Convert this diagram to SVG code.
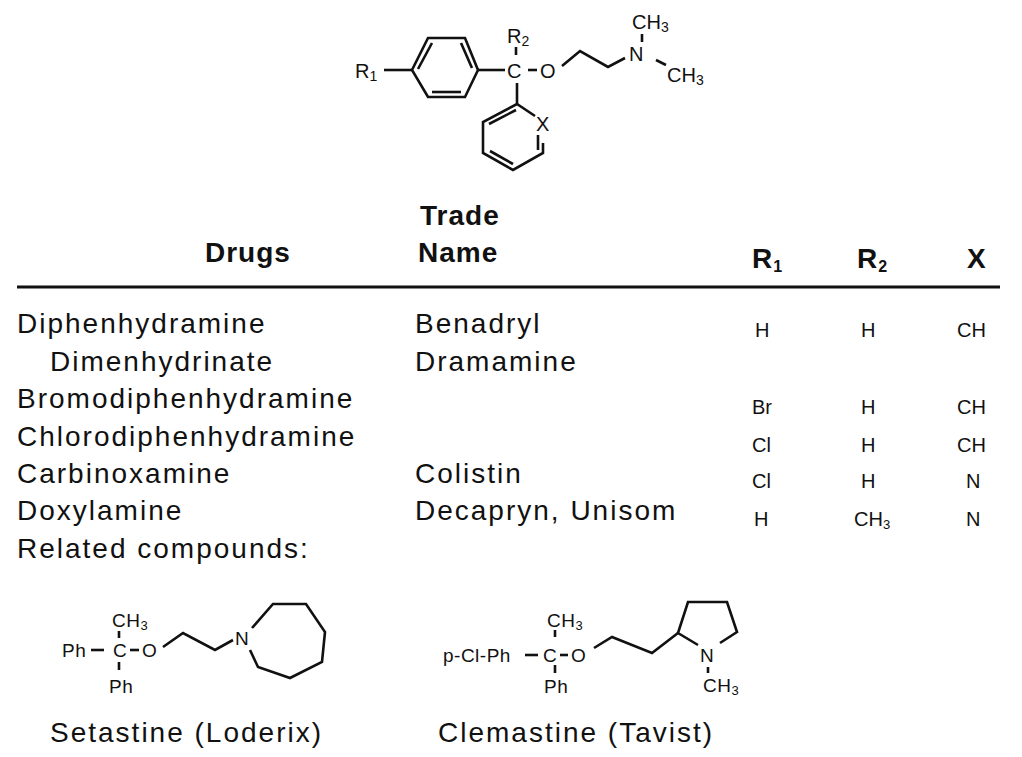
<svg xmlns="http://www.w3.org/2000/svg" width="1022" height="757" viewBox="0 0 1022 757">
<style>
.b{fill:none;stroke:#111;stroke-width:2.6;stroke-linejoin:miter;stroke-linecap:butt}
.t{font-family:"Liberation Sans",Arial,sans-serif;fill:#111}
.s{font-size:20px}
.m{font-size:19px;letter-spacing:0.5px}
.l{font-size:28px;letter-spacing:2px}
.h{font-size:28px;font-weight:bold;letter-spacing:1px}
.v{font-size:20px}
</style>
<rect width="1022" height="757" fill="#fff"/>
<g id="main-structure">
<polygon class="b" points="412,70 428,38 465,38 478,70 465,97 428,97"/>
<line class="b" x1="418" y1="69" x2="432" y2="43"/>
<line class="b" x1="461" y1="43" x2="472" y2="68"/>
<line class="b" x1="432" y1="92" x2="461" y2="92"/>
<line class="b" x1="384" y1="70" x2="412" y2="70"/>
<line class="b" x1="478" y1="70" x2="505" y2="70"/>
<line class="b" x1="516" y1="47" x2="516" y2="55"/>
<line class="b" x1="528" y1="70" x2="537" y2="70"/>
<polyline class="b" points="562,66 580,51 608,67 625,58"/>
<line class="b" x1="642" y1="34" x2="642" y2="42"/>
<line class="b" x1="656" y1="60" x2="666" y2="65"/>
<line class="b" x1="517" y1="83" x2="517" y2="104"/>
<polyline class="b" points="535,116 517,104 483,122 483,153 513,170 543,153 543,143"/>
<line class="b" x1="489" y1="124" x2="516" y2="110"/>
<line class="b" x1="490" y1="151" x2="513" y2="164"/>
<line class="b" x1="538" y1="135" x2="538" y2="150"/>
<text class="t s" x="355" y="78">R<tspan font-size="14" dy="3">1</tspan></text>
<text class="t s" x="507" y="43">R<tspan font-size="14" dy="3">2</tspan></text>
<text class="t s" x="507" y="78">C</text>
<text class="t s" x="540" y="78">O</text>
<text class="t s" x="629" y="61">N</text>
<text class="t s" x="632" y="29">CH<tspan font-size="14" dy="3">3</tspan></text>
<text class="t s" x="667" y="82">CH<tspan font-size="14" dy="3">3</tspan></text>
<text class="t s" x="536" y="131">X</text>
</g>
<g id="table-header">
<text class="t h" x="420" y="225">Trade</text>
<text class="t h" x="418" y="262">Name</text>
<text class="t h" x="205" y="262">Drugs</text>
<text class="t h" x="752" y="268">R<tspan font-size="16" dy="4">1</tspan></text>
<text class="t h" x="857" y="268">R<tspan font-size="16" dy="4">2</tspan></text>
<text class="t h" x="967" y="268">X</text>
<line x1="17" y1="287" x2="1000" y2="287" stroke="#111" stroke-width="3"/>
</g>
<g id="table-rows">
<text class="t l" x="17" y="333">Diphenhydramine</text>
<text class="t l" x="50" y="371">Dimenhydrinate</text>
<text class="t l" x="17" y="408">Bromodiphenhydramine</text>
<text class="t l" x="17" y="446">Chlorodiphenhydramine</text>
<text class="t l" x="17" y="483">Carbinoxamine</text>
<text class="t l" x="17" y="520">Doxylamine</text>
<text class="t l" x="17" y="558">Related compounds:</text>
<text class="t l" x="415" y="333">Benadryl</text>
<text class="t l" x="415" y="371">Dramamine</text>
<text class="t l" x="415" y="483">Colistin</text>
<text class="t l" x="415" y="520">Decapryn, Unisom</text>
<text class="t v" x="755" y="337">H</text><text class="t v" x="861" y="337">H</text><text class="t v" x="957" y="337">CH</text>
<text class="t v" x="752" y="414">Br</text><text class="t v" x="861" y="414">H</text><text class="t v" x="957" y="414">CH</text>
<text class="t v" x="752" y="452">Cl</text><text class="t v" x="861" y="452">H</text><text class="t v" x="957" y="452">CH</text>
<text class="t v" x="752" y="488">Cl</text><text class="t v" x="861" y="488">H</text><text class="t v" x="966" y="488">N</text>
<text class="t v" x="754" y="526">H</text><text class="t v" x="854" y="526">CH<tspan font-size="13" dy="3">3</tspan></text><text class="t v" x="966" y="526">N</text>
</g>
<g id="setastine">
<text class="t m" x="112" y="627">CH<tspan font-size="13" dy="3">3</tspan></text>
<line class="b" x1="119" y1="631" x2="119" y2="638"/>
<text class="t m" x="62" y="657">Ph</text>
<line class="b" x1="91" y1="650" x2="104" y2="650"/>
<text class="t m" x="113" y="657">C</text>
<line class="b" x1="130" y1="650" x2="139" y2="650"/>
<text class="t m" x="142" y="657">O</text>
<line class="b" x1="119" y1="662" x2="119" y2="670"/>
<text class="t m" x="109" y="693">Ph</text>
<polyline class="b" points="163,647 183,633 215,650 233,640"/>
<text class="t m" x="235" y="645">N</text>
<polyline class="b" points="252,628 273,604 306,604 325,632 322,662 290,678 258,667 250,650"/>
<text class="t l" x="50" y="742">Setastine (Loderix)</text>
</g>
<g id="clemastine">
<text class="t m" x="547" y="627">CH<tspan font-size="13" dy="3">3</tspan></text>
<line class="b" x1="555" y1="630" x2="555" y2="637"/>
<text class="t m" x="443" y="662" letter-spacing="1.5">p-Cl-Ph</text>
<line class="b" x1="525" y1="655" x2="538" y2="655"/>
<text class="t m" x="543" y="662">C</text>
<line class="b" x1="560" y1="655" x2="568" y2="655"/>
<text class="t m" x="571" y="662">O</text>
<line class="b" x1="555" y1="665" x2="555" y2="673"/>
<text class="t m" x="544" y="693">Ph</text>
<polyline class="b" points="594,648 612,637 652,653 678,633"/>
<polyline class="b" points="698,645 678,633 688,602 727,602 737,632 720,643"/>
<text class="t m" x="700" y="662">N</text>
<line class="b" x1="708" y1="667" x2="708" y2="673"/>
<text class="t m" x="703" y="692">CH<tspan font-size="13" dy="3">3</tspan></text>
<text class="t l" x="438" y="742">Clemastine (Tavist)</text>
</g>
</svg>
